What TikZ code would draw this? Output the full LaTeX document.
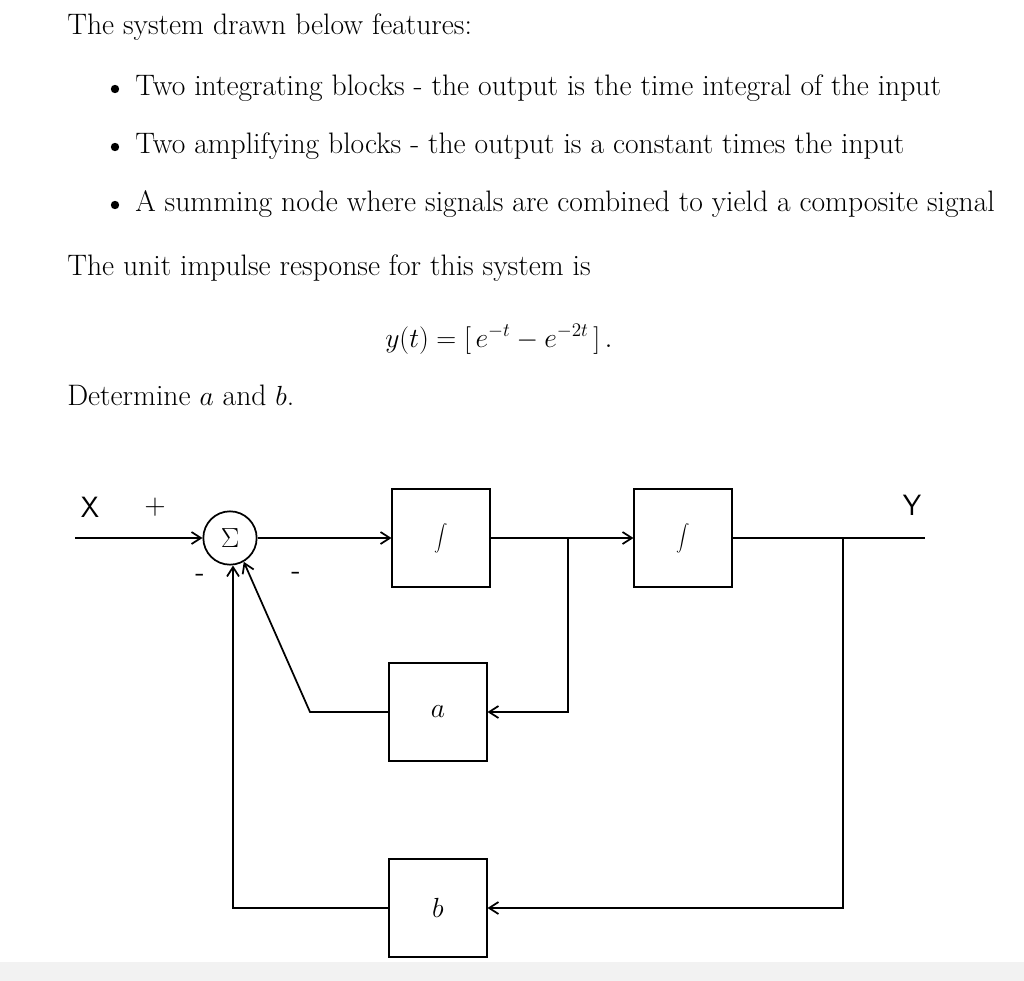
\documentclass[tikz,border=0pt]{standalone}
\usetikzlibrary{arrows.meta}
\begin{document}
\begin{tikzpicture}[x=0.75pt,y=-0.75pt,
  txt/.style={anchor=base west,inner sep=0pt,font=\fontsize{22.2}{24}\selectfont},
  blk/.style={draw,line width=1.3pt,minimum width=73pt,minimum height=74pt,inner sep=0pt},
  wire/.style={line width=1.3pt},
  arr/.style={wire,-{Straight Barb[length=7pt,width=9pt]}},
  hand/.style={font=\fontsize{22}{24}\sffamily\selectfont}]
\useasboundingbox (0,0) rectangle (1024,981);
\fill[gray!10] (0,962) rectangle (1024,981);
\node[txt] (t1) at (67,35) {The system drawn below features:};
\foreach \yy/\s [count=\i] in {95/{Two integrating blocks - the output is the time integral of the input},
  153/{Two amplifying blocks - the output is a constant times the input},
  211/{A summing node where signals are combined to yield a composite signal}}{
  \fill (115,\yy-6) circle (4.2);
  \node[txt] (b\i) at (135,\yy) {\s};
}
\node[txt] (t2) at (67,275) {The unit impulse response for this system is};
\node[txt] (eq) at (385,347) {$y(t)=\bigl[\,e^{-t}-e^{-2t}\,\bigr]\,.$};
\node[txt] (t3) at (67,405) {Determine $a$ and $b$.};
% diagram
\node[draw,circle,line width=1.3pt,minimum size=40pt,inner sep=0pt,font=\fontsize{22}{24}\selectfont] (s) at (230,538) {$\Sigma$};
\node[blk] (i1) at (441,538) {\fontsize{22}{24}\selectfont$\displaystyle\int$};
\node[blk] (i2) at (683,538) {\fontsize{22}{24}\selectfont$\displaystyle\int$};
\node[blk] (a) at (438,712) {\fontsize{22}{24}\selectfont$a$};
\node[blk] (b) at (438,908) {\fontsize{22}{24}\selectfont$b$};
\node[hand] (X) at (90,507) {X};
\node[hand] (pl) at (155,507) {+};
\node[hand] (Y) at (912,505) {Y};
\node[hand] (m1) at (200,578) {-};
\node[hand] (m2) at (296,576) {-};
\coordinate (in) at (75,538);
\coordinate (j1) at (568,538);
\coordinate (j2) at (843,538);
\coordinate (out) at (925,538);
\coordinate (ka) at (310,712);
\coordinate (kb) at (233,908);
\draw[arr] (in) -- (s);
\draw[arr] (s) -- (i1);
\draw[arr] (i1) -- (i2);
\draw[wire] (i2.east) -- (out);
\draw[arr] (j1) |- (a.east);
\draw[arr] (j2) |- (b.east);
\draw[arr] (a.west) -- (ka) -- (s.-60);
\draw[arr] (b.west) -- (kb) -- (kb|-s.south);
\end{tikzpicture}
\end{document}
